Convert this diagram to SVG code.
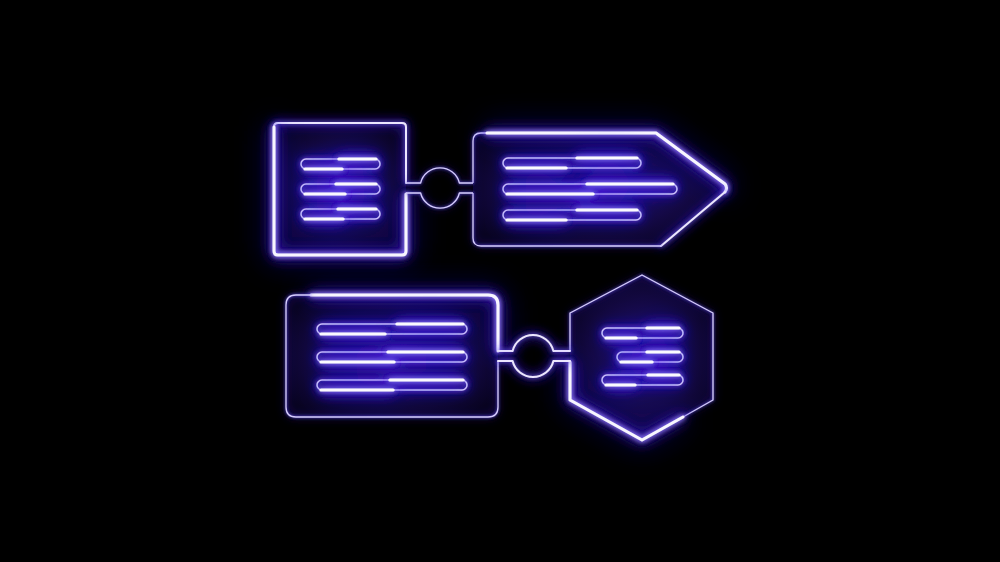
<svg xmlns="http://www.w3.org/2000/svg" width="1000" height="562" viewBox="0 0 1000 562">
<defs>
<filter id="gb" filterUnits="userSpaceOnUse" x="0" y="0" width="1000" height="562">
<feGaussianBlur in="SourceAlpha" stdDeviation="2.5" result="a1"/>
<feFlood flood-color="#8f72ff"/>
<feComposite in2="a1" operator="in" result="c1"/>
<feGaussianBlur in="SourceAlpha" stdDeviation="7" result="a2"/>
<feFlood flood-color="#5233ff"/>
<feComposite in2="a2" operator="in" result="c2"/>
<feGaussianBlur in="SourceAlpha" stdDeviation="16" result="a3"/>
<feFlood flood-color="#3d1fe0"/>
<feComposite in2="a3" operator="in" result="c3"/>
<feMerge><feMergeNode in="c3"/><feMergeNode in="c3"/><feMergeNode in="c2"/><feMergeNode in="c2"/><feMergeNode in="c1"/><feMergeNode in="c1"/><feMergeNode in="SourceGraphic"/></feMerge>
</filter>
<filter id="gp" filterUnits="userSpaceOnUse" x="0" y="0" width="1000" height="562">
<feGaussianBlur in="SourceAlpha" stdDeviation="2.5" result="a1"/>
<feFlood flood-color="#9278ff"/>
<feComposite in2="a1" operator="in" result="c1"/>
<feGaussianBlur in="SourceAlpha" stdDeviation="7" result="a2"/>
<feFlood flood-color="#5637ff"/>
<feComposite in2="a2" operator="in" result="c2"/>
<feGaussianBlur in="SourceAlpha" stdDeviation="14" result="a3"/>
<feFlood flood-color="#4224e8"/>
<feComposite in2="a3" operator="in" result="c3"/>
<feMerge><feMergeNode in="c3"/><feMergeNode in="c3"/><feMergeNode in="c2"/><feMergeNode in="c2"/><feMergeNode in="c1"/><feMergeNode in="SourceGraphic"/></feMerge>
</filter>
<filter id="gm" filterUnits="userSpaceOnUse" x="0" y="0" width="1000" height="562">
<feGaussianBlur in="SourceAlpha" stdDeviation="2" result="a1"/>
<feFlood flood-color="#7d5eff"/>
<feComposite in2="a1" operator="in" result="c1"/>
<feGaussianBlur in="SourceAlpha" stdDeviation="6" result="a2"/>
<feFlood flood-color="#4a2cff"/>
<feComposite in2="a2" operator="in" result="c2"/>
<feMerge><feMergeNode in="c2"/><feMergeNode in="c2"/><feMergeNode in="c1"/><feMergeNode in="SourceGraphic"/></feMerge>
</filter>
<filter id="gs" filterUnits="userSpaceOnUse" x="0" y="0" width="1000" height="562">
<feGaussianBlur in="SourceAlpha" stdDeviation="1.5" result="a1"/>
<feFlood flood-color="#6a4dff"/>
<feComposite in2="a1" operator="in" result="c1"/>
<feGaussianBlur in="SourceAlpha" stdDeviation="4" result="a2"/>
<feFlood flood-color="#3a20c0"/>
<feComposite in2="a2" operator="in" result="c2"/>
<feMerge><feMergeNode in="c2"/><feMergeNode in="c1"/><feMergeNode in="SourceGraphic"/></feMerge>
</filter>
<radialGradient id="haze" cx="0.5" cy="0.5" r="0.6">
<stop offset="0" stop-color="#231070"/>
<stop offset="1" stop-color="#080320"/>
</radialGradient>
</defs>
<style>
.fill{fill:url(#haze);stroke:none}
.thin{fill:none;stroke:#d4caff;stroke-width:1.3;stroke-linejoin:round;filter:url(#gs)}
.med{fill:none;stroke:#ece6ff;stroke-width:2;stroke-linecap:round;stroke-linejoin:round;filter:url(#gm)}
.bright{fill:none;stroke:#f8f6ff;stroke-width:3;stroke-linecap:round;stroke-linejoin:round;filter:url(#gb)}
.pill{fill:none;stroke:#e2dbff;stroke-width:1.5;filter:url(#gm)}
.pb{fill:none;stroke:#fbfaff;stroke-width:3.2;stroke-linecap:round;filter:url(#gp)}
</style>
<rect width="1000" height="562" fill="#000"/>

<g id="node-doc1">
<rect class="fill" x="274" y="123" width="132" height="132" rx="4"/>
<path class="med" d="M406,183 L406,127 Q406,123 402,123 L278,123 Q274,123 274,127"/>
<path class="bright" d="M274,127 L274,251 Q274,255 278,255 L402,255 Q406,255 406,251 L406,194"/>
<rect class="pill" x="301" y="159" width="79" height="10" rx="5"/>
<rect class="pill" x="301" y="184" width="79" height="10" rx="5"/>
<rect class="pill" x="301" y="209" width="79" height="10" rx="5"/>
<path class="pb" d="M339,159 H376 M305,169 H342 M336,184 H376 M305,194 H345 M338,209 H376 M305,219 H343"/>
</g>

<g id="node-arrow1">
<path class="fill" d="M473,141 Q473,133 481,133 L656,133 L725,184 Q728,188 725,192 L661,246 L481,246 Q473,246 473,238 Z"/>
<path class="thin" d="M473,183 L473,141 Q473,133 481,133 L487,133"/>
<path class="bright" d="M487,133 L656,133 L725,184 Q728,188 725,192"/>
<path class="med" d="M725,192 L661,246"/>
<path class="thin" d="M661,246 L481,246 Q473,246 473,238 L473,193"/>
<rect class="pill" x="503" y="158" width="138" height="10" rx="5"/>
<rect class="pill" x="503" y="184" width="174" height="10" rx="5"/>
<rect class="pill" x="503" y="210" width="138" height="10" rx="5"/>
<path class="pb" d="M577,158 H637 M507,168 H566 M587,184 H673 M507,194 H593 M577,210 H637 M507,220 H566"/>
</g>

<g id="node-doc2">
<rect class="fill" x="286" y="295" width="212" height="122" rx="10"/>
<path class="bright" d="M311,295 L488,295 Q498,295 498,305 L498,351"/>
<path class="thin" d="M311,295 L296,295 Q286,295 286,305 L286,407 Q286,417 296,417 L488,417 Q498,417 498,407 L498,361"/>
<rect class="pill" x="317" y="324" width="150" height="10" rx="5"/>
<rect class="pill" x="317" y="352" width="150" height="10" rx="5"/>
<rect class="pill" x="317" y="380" width="150" height="10" rx="5"/>
<path class="pb" d="M397,324 H463 M321,334 H385 M388,352 H463 M321,362 H394 M390,380 H463 M321,390 H393"/>
</g>

<g id="node-hex">
<path class="fill" d="M570,313 L642,275 L713,313 L713,400 L642,440 L570,400 Z"/>
<path class="thin" d="M570,351 L570,313 L642,275 L713,313 L713,400 L683,417"/>
<path class="bright" d="M570,362 L570,400 L642,440 L683,417"/>
<rect class="pill" x="602" y="328" width="81" height="10" rx="5"/>
<rect class="pill" x="617" y="352" width="66" height="10" rx="5"/>
<rect class="pill" x="602" y="375" width="81" height="10" rx="5"/>
<path class="pb" d="M647,328 H679 M606,338 H636 M647,352 H679 M621,362 H652 M648,375 H679 M606,385 H635"/>
</g>

<g id="connectors">
<path class="thin" d="M406,183 H420.6 A20,20 0 0 1 459.4,183 H473"/>
<path class="thin" d="M406,193 H420.6 A20,20 0 0 0 459.4,193 H473"/>
<path class="med" d="M498,351 H512.6 A21,21 0 0 1 553.4,351 H570"/>
<path class="med" d="M498,361 H512.6 A21,21 0 0 0 553.4,361 H570"/>
</g>
</svg>
